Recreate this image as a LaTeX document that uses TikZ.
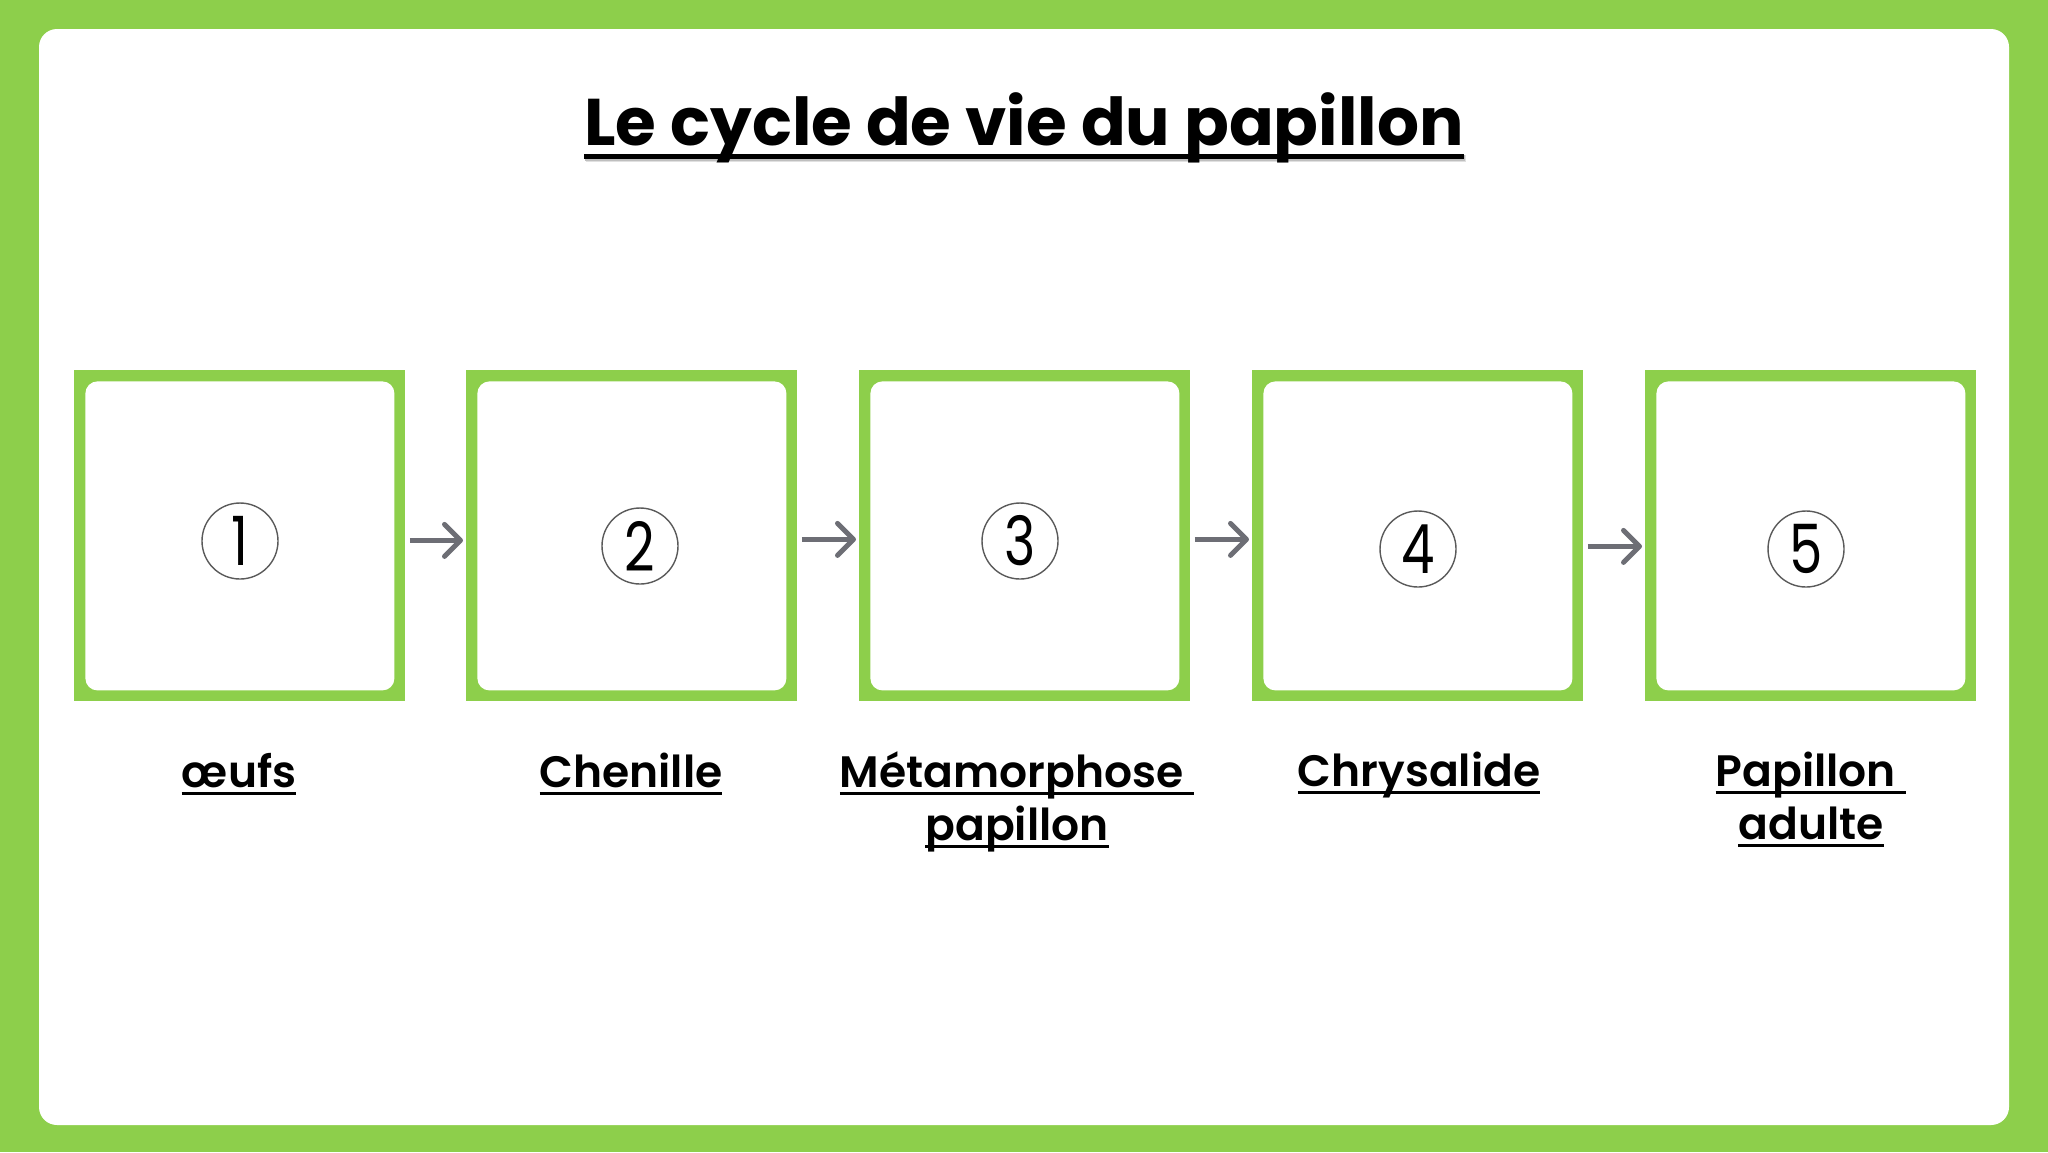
\documentclass[tikz,border=0pt]{standalone}
\usepackage{fontspec}
\setmainfont{Poppins}[BoldFont={Poppins SemiBold}]
\newfontfamily\digitfont{Poppins}
\newfontfamily\titlefont{Poppins Bold}
\usetikzlibrary{arrows.meta}
\definecolor{leaf}{HTML}{8DCF4B}
\definecolor{arrowgray}{HTML}{6D6E75}
\definecolor{ringgray}{HTML}{5A5A5A}
\newcommand\ulx[1]{\setbox0\hbox{#1}\rlap{\rule[-4pt]{\wd0}{1.6pt}}\box0}
\newcommand\ultitle[1]{\setbox0\hbox{#1}%
  \rlap{\hspace{1pt}\color{black!12}\rule[-8.4pt]{\wd0}{3.6pt}}%
  \rlap{\hspace{0.5pt}\color{black!25}\rule[-7.8pt]{\wd0}{2.8pt}}%
  \rlap{\rule[-6.9pt]{\wd0}{2.6pt}}\box0}
\newcommand\dig[1]{\scalebox{0.78}[1]{#1}}
\begin{document}
\begin{tikzpicture}[x=0.5pt,y=-0.5pt,
  frame/.style={fill=leaf, draw=none, minimum width=165.5pt, minimum height=165.5pt, inner sep=0pt, anchor=north west},
  pane/.style={fill=white, draw=none, rounded corners=6pt, minimum width=154.5pt, minimum height=154.5pt, inner sep=0pt},
  ring/.style={circle, draw=ringgray, line width=0.7pt, minimum size=38pt, inner sep=0pt, font=\digitfont\fontsize{34}{34}\selectfont},
  lab/.style={anchor=base, inner sep=0pt, font=\fontsize{22}{26}\selectfont\bfseries},
  ttl/.style={anchor=base, inner sep=0pt, font=\titlefont\fontsize{33}{38}\selectfont},
  flow/.style={draw=arrowgray, line width=2.5pt, -{Straight Barb[length=8pt,width=16pt,line cap=round,line join=round]}, shorten <=2pt, shorten >=1.5pt}]
\useasboundingbox (0,0) rectangle (2048,1152);
\fill[leaf] (0,0) rectangle (2048,1152);
\fill[white, rounded corners=9pt] (39,29) rectangle (2009,1125);
% title
\node[ttl] (title) at (1024,145) {\ultitle{Le cycle de vie du papillon}};
% boxes
\node[frame] (b1) at (74,370) {};
\node[frame] (b2) at (466,370) {};
\node[frame] (b3) at (859,370) {};
\node[frame] (b4) at (1252,370) {};
\node[frame] (b5) at (1645,370) {};
\node[pane] (p1) at (b1.center) {};
\node[pane] (p2) at (b2.center) {};
\node[pane] (p3) at (b3.center) {};
\node[pane] (p4) at (b4.center) {};
\node[pane] (p5) at (b5.center) {};
% numbers
\node[ring] (n1) at (240,541) {\dig{1}};
\node[ring] (n2) at (640,546) {\dig{2}};
\node[ring] (n3) at (1020,541) {\dig{3}};
\node[ring] (n4) at (1418,549) {\dig{4}};
\node[ring] (n5) at (1806,549) {\dig{5}};
% arrows
\draw[flow] ([yshift=-2.25pt]b1.east) -- ([yshift=-2.25pt]b2.west);
\draw[flow] ([yshift=-1.75pt]b2.east) -- ([yshift=-1.75pt]b3.west);
\draw[flow] ([yshift=-1.75pt]b3.east) -- ([yshift=-1.75pt]b4.west);
\draw[flow] ([yshift=-5.25pt]b4.east) -- ([yshift=-5.25pt]b5.west);
% labels
\node[lab] (l1) at (239,787) {\ulx{œufs}};
\node[lab] (l2) at (631,787) {\ulx{Chenille}};
\node[lab] (l3a) at (1017,787) {\ulx{Métamorphose\ }};
\node[lab] (l3b) at (1017,840) {\ulx{papillon}};
\node[lab] (l4) at (1419,786) {\ulx{Chrysalide}};
\node[lab] (l5a) at (1811,786) {\ulx{Papillon\ }};
\node[lab] (l5b) at (1811,839) {\ulx{adulte}};
\end{tikzpicture}
\end{document}
